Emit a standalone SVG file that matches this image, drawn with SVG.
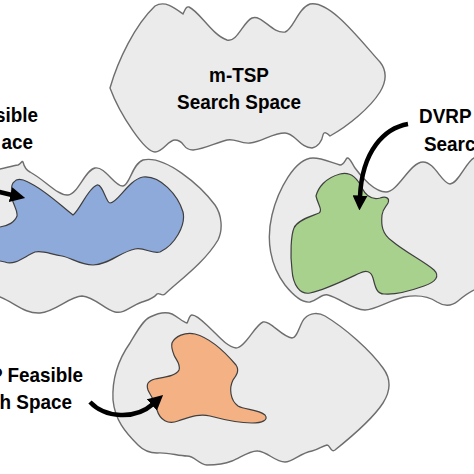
<svg xmlns="http://www.w3.org/2000/svg" width="474" height="474" viewBox="0 0 474 474">
<defs>
<style>
.outer{fill:#ebebeb;stroke:#6e6e6e;stroke-width:1.4}
.inner{stroke:#3f3f3f;stroke-width:1.2}
.lbl{font-family:"Liberation Sans",Arial,sans-serif;font-weight:bold;font-size:21px;fill:#000}
.arrow{fill:none;stroke:#000;stroke-width:4.5;stroke-linecap:butt}
</style>
<marker id="ah" viewBox="0 0 10 10" refX="1" refY="5" markerWidth="15" markerHeight="15" markerUnits="userSpaceOnUse" orient="auto">
<path d="M0,0 L10,5 L0,10 z" fill="#000"/>
</marker>
</defs>
<rect width="474" height="474" fill="#fff"/>

<g id="mtsp">
<path class="outer" d="M110,88 C118,60 135,25 155,6 C165,0 175,8 183,14 C185,10 186,6 189,7 C200,12 212,35 227,40 C237,43 243,22 252,18 C262,14 272,34 285,32 C293,30 298,8 310,4 C330,0 360,40 380,62 C388,72 386,82 380,92 C370,108 348,126 330,136 C327,133 324,131 323,135 C322,141 318,147 312,148 C300,148 295,133 285,133 C272,133 262,142 250,143 C240,144 235,138 227,140 C215,143 205,149 193,150 C182,150 185,140 175,140 C168,140 163,152 155,152 C145,152 120,115 110,88 Z"/>
<text class="lbl" transform="translate(239,82) scale(0.9,1)" text-anchor="middle">m-TSP</text>
<text class="lbl" transform="translate(239,109) scale(0.9,1)" text-anchor="middle">Search Space</text>
</g>

<g id="left-space">
<path class="outer" d="M-5,170 C5,168 12,166 18,165 C21,164 22,160 23,162 C24,166 26,170 30,172 C45,180 58,196 68,195 C78,194 85,170 95,168 C105,166 115,187 123,186 C130,185 132,164 143,160 C165,155 200,185 215,205 C222,215 223,230 218,240 C205,262 180,280 165,294 C162,297 159,292 157,294 C153,299 148,300 142,302 C130,306 125,314 115,312 C105,310 95,297 82,296 C70,296 55,312 40,313 C25,314 15,303 0,297 L-5,297 Z"/>
<path class="inner" fill="#8eaadb" d="M-5,228 L0,227 C8,226 15,222 17,216 C18,210 13,205 12,198 C11,190 11,184 14,182 C17,178 22,179 28,182 C45,190 60,205 73,215 C80,210 88,188 97,185 C103,184 106,203 110,203 C118,203 128,180 143,177 C160,175 178,195 183,212 C186,225 175,245 160,252 C150,254 145,247 135,249 C120,252 108,265 93,265 C80,265 72,258 62,256 C50,254 42,250 35,252 C25,256 15,266 5,262 L-5,260 Z"/>
<text class="lbl" transform="translate(38,122) scale(0.9,1)" text-anchor="end">sible</text>
<text class="lbl" transform="translate(33,149) scale(0.9,1)" text-anchor="end">ace</text>
</g>

<g id="dvrp-space">
<path class="outer" d="M479,156 L474,158 C466,162 458,184 450,184 C442,184 435,162 423,162 C410,162 398,192 386,192 C375,192 362,178 355,168 C352,164 350,157 347,158 C345,160 344,165 340,165 C330,162 322,158 313,158 C295,158 278,190 272,215 C266,240 270,265 285,285 C293,295 302,303 310,302 C318,300 322,293 328,295 C340,298 352,310 365,310 C375,310 390,300 404,297 C415,295 428,296 437,302 C445,307 452,306 458,301 C464,296 470,291 479,288 Z"/>
<path class="inner" fill="#a9d18e" d="M316,196 C318,188 325,178 340,174 C352,171 358,180 362,188 C366,196 372,200 380,198 C386,196 390,198 388,203 C386,207 383,208 382,215 C381,225 382,234 392,241 C405,252 425,262 434,270 C440,276 436,282 424,286 C410,291 395,295 384,294 C376,294 375,285 373,278 C371,271 366,270 360,273 C345,280 325,290 310,293 C300,295 293,285 292,270 C290,255 291,235 294,228 C297,220 312,216 319,213 C323,210 318,205 316,196 Z"/>
<text class="lbl" transform="translate(419,123) scale(0.9,1)">DVRP</text>
<text class="lbl" transform="translate(424,151) scale(0.9,1)">Searc</text>
</g>

<g id="bottom-space">
<path class="outer" d="M150,317 C158,313 165,311 172,314 C178,317 183,322 187,323 C189,320 189,315 192,315 C198,315 205,324 213,331 C220,338 228,347 236,348 C245,348 255,325 263,322 C270,320 282,337 292,338 C298,338 300,322 305,318 C310,313 318,312 325,316 C345,328 370,350 383,368 C392,380 390,392 383,403 C372,420 350,438 335,450 C331,453 330,445 327,445 C322,446 318,450 312,451 C300,453 293,462 285,462 C275,462 268,452 258,451 C250,450 240,458 232,461 C222,465 213,465 207,465 C198,464 195,456 187,456 C178,456 168,452 157,453 C150,453 143,450 138,445 C125,432 115,420 113,400 C112,380 118,360 130,343 C136,333 143,320 150,317 Z"/>
<path class="inner" fill="#f4b183" d="M172,343 C175,336 185,332 195,334 C210,338 225,352 236,365 C240,371 236,376 233,380 C229,388 230,400 238,406 C245,410 258,409 265,415 C269,420 262,423 252,423 C240,423 225,420 210,416 C198,413 188,418 178,421 C168,425 160,420 157,410 C155,400 150,395 148,390 C146,384 148,381 155,379 C165,377 176,376 179,370 C181,364 176,360 174,355 C172,350 171,347 172,343 Z"/>
<text class="lbl" transform="translate(83,382) scale(0.9,1)" text-anchor="end">P Feasible</text>
<text class="lbl" transform="translate(72,409) scale(0.9,1)" text-anchor="end">h Space</text>
</g>

<g id="connectors">
<path class="arrow" marker-end="url(#ah)" d="M408,124 C385,128 362,150 360,197"/>
<path class="arrow" marker-end="url(#ah)" d="M-5,191 L12,195"/>
<path class="arrow" marker-end="url(#ah)" d="M90,402 C105,418 135,420 153,404"/>
</g>
</svg>
